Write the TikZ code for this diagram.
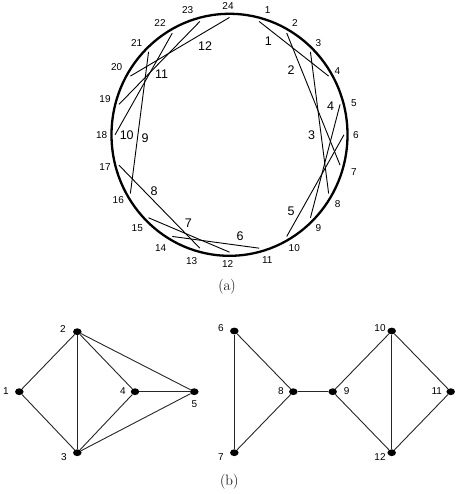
\documentclass[tikz,border=0pt]{standalone}
\usepackage{fontspec}
\newfontfamily\labfont{Liberation Sans}
\usetikzlibrary{shapes.geometric}
\begin{document}
\begin{tikzpicture}[x=1pt,y=-1pt,
  ptlab/.style={font=\labfont\fontsize{10}{12}\selectfont, inner sep=0pt},
  chlab/.style={font=\labfont\fontsize{12.5}{14}\selectfont, inner sep=0pt},
  chord/.style={line width=0.9pt},
  rim/.style={line width=2.3pt},
  vtx/.style={ellipse, fill=black, minimum width=8.5pt, minimum height=6.8pt, inner sep=0pt},
  edge/.style={line width=0.9pt, draw=black!85},
  captext/.style={font=\fontsize{15}{17}\selectfont, inner sep=0pt}]
\useasboundingbox (0,0) rectangle (459,494);
% circle
\coordinate (c) at (229.5,134.8);
\draw[rim] (c) ellipse [x radius=118pt, y radius=121pt];
\foreach \k in {1,...,24}{
  \coordinate (p\k) at ({229.5+0.97*118*cos(90-15*\k)}, {134.8-0.97*121*sin(90-15*\k)});
}
% point labels
\foreach \k/\x/\y in {1/267.7/10.3, 2/295/22.7, 3/318.3/42.7, 4/337.3/71, 5/354/102.7, 6/356/135,
  7/354/171.7, 8/337.7/204, 9/318.3/228.3, 10/294.3/248.3, 11/267.3/260.3, 12/227.7/264.3,
  13/191.7/260.7, 14/160.7/248.3, 15/137.3/228.3, 16/118.3/200, 17/105/167.3, 18/101.7/135,
  19/105/98.7, 20/116.7/66.7, 21/136.7/42.7, 22/160/22.7, 23/187.7/10, 24/228/6.3}{
  \node[ptlab] (l\k) at (\x,\y) {\k};
}
% chords
\draw[chord] (p1) -- (p4);
\draw[chord] (p2) -- (p7);
\draw[chord] (p3) -- (p8);
\draw[chord] (p5) -- (p9);
\draw[chord] (p6) -- (p10);
\draw[chord] (p11) -- (p14);
\draw[chord] (p12) -- (p15);
\draw[chord] (p13) -- (p17);
\draw[chord] (p16) -- (p21);
\draw[chord] (p18) -- (p22);
\draw[chord] (p19) -- (p23);
\draw[chord] (p20) -- (p24);
% chord labels
\foreach \k/\x/\y in {1/268.3/41.7, 2/291/70, 3/311.7/135, 4/330.7/106.7, 5/291/211, 6/240/236,
  7/188.3/223.3, 8/154/191, 9/145/137.7, 10/126.7/135, 11/161.7/74, 12/205/45.7}{
  \node[chlab] (cl\k) at (\x,\y) {\k};
}
\node[captext] (capa) at (227,287) {(a)};
% graph (b)
\node[vtx] (n1) at (19.3,391.7) {};
\node[vtx] (n2) at (77.3,331.7) {};
\node[vtx] (n3) at (77.3,452.7) {};
\node[vtx] (n4) at (135,391.7) {};
\node[vtx] (n5) at (194.3,391.7) {};
\node[vtx] (n6) at (234.3,331) {};
\node[vtx] (n7) at (234.3,452.7) {};
\node[vtx] (n8) at (293.3,391.7) {};
\node[vtx] (n9) at (332.7,391.7) {};
\node[vtx] (n10) at (391.7,331) {};
\node[vtx] (n11) at (450.7,391.7) {};
\node[vtx] (n12) at (391.7,452.7) {};
\foreach \a/\b in {1/2,1/3,2/3,2/4,2/5,3/4,3/5,4/5,6/7,6/8,7/8,8/9,9/10,9/12,10/11,10/12,11/12}{
  \draw[edge] (n\a) -- (n\b);
}
\foreach \k/\x/\y in {1/6/391.5, 2/63/329, 3/64/457, 4/123/391.5, 5/194.3/404, 6/221/328, 7/221/457,
  8/281/391.5, 9/346.7/391.5, 10/380/328, 11/436.7/391.5, 12/380/457}{
  \node[ptlab] (g\k) at (\x,\y) {\k};
}
\node[captext] (capb) at (229.3,481.7) {(b)};
\end{tikzpicture}
\end{document}
